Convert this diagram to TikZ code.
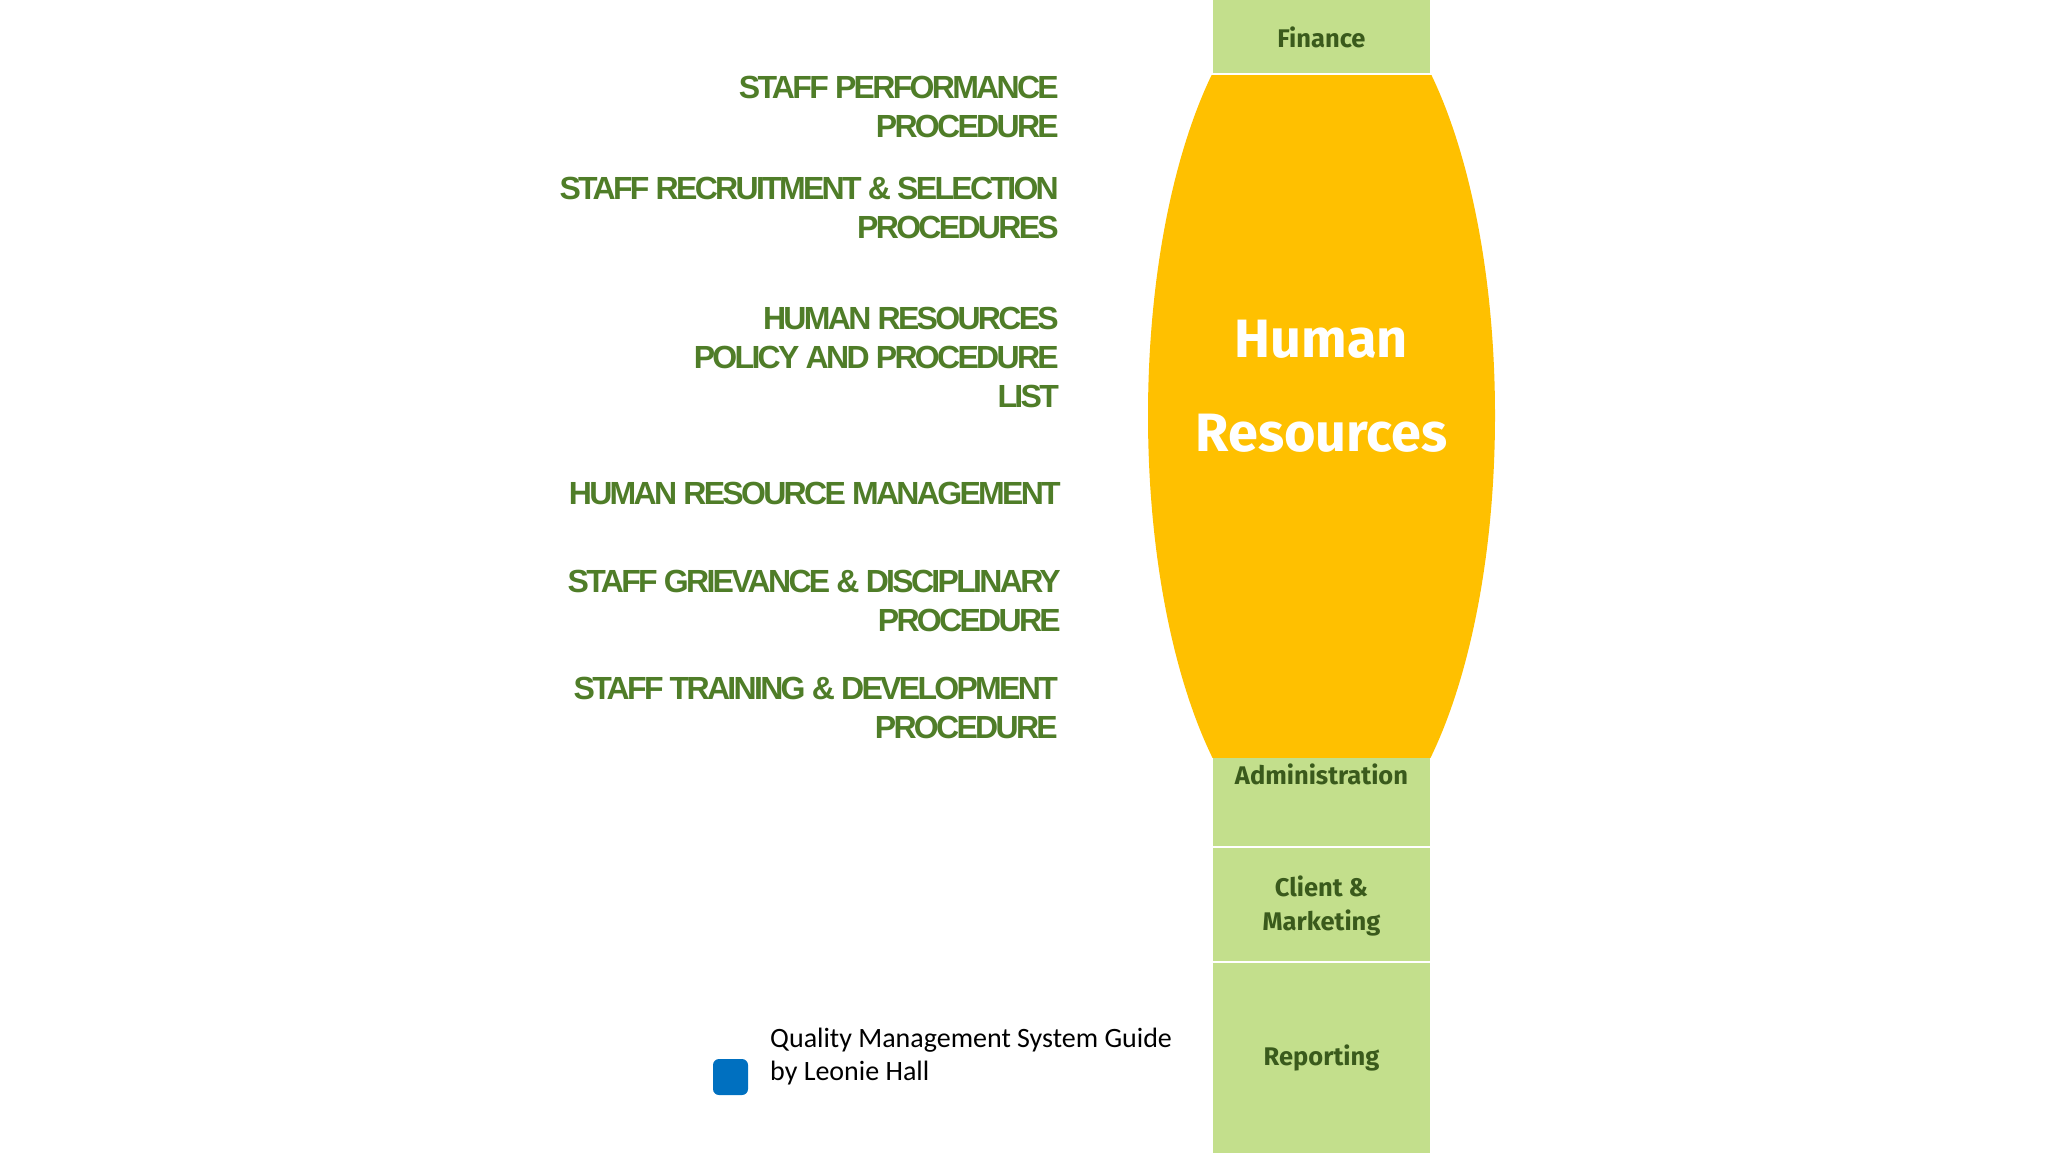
\documentclass[tikz,border=0pt]{standalone}
\usepackage{fontspec}
\newfontfamily\hdfont[LetterSpace=-8.4]{Liberation Sans}
\newfontfamily\lbfont{Fira Sans}
\newfontfamily\qfont{Carlito}
\definecolor{boxgreen}{HTML}{C3DF8C}
\definecolor{labelgreen}{HTML}{3A5A1C}
\definecolor{txtgreen}{HTML}{4F7D28}
\definecolor{hrgold}{HTML}{FFC000}
\definecolor{qblue}{HTML}{0070C0}
\tikzset{
  colbox/.style={fill=boxgreen, draw=white, line width=2pt},
  collabel/.style={inner sep=0pt, text=labelgreen, font=\lbfont\bfseries\fontsize{25.5}{34}\selectfont, align=center},
  proc/.style={inner sep=0pt, anchor=north east, align=right, text=txtgreen, font=\hdfont\bfseries\fontsize{32}{39}\selectfont},
}
\begin{document}
\begin{tikzpicture}[x=1pt,y=-1pt]
\useasboundingbox[fill=white] (0,0) rectangle (2048,1152);
% green column
\draw[colbox] (1212,-5) rectangle (1431,74);
\draw[colbox] (1212,757) rectangle (1431,847);
\draw[colbox] (1212,847) rectangle (1431,962);
\draw[colbox] (1212,962) rectangle (1431,1160);
% gold lens
\begin{scope}
  \clip (1000,75) rectangle (1700,757);
  \fill[hrgold] (1321.5,415.5) ellipse [x radius=173.5pt, y radius=440pt];
\end{scope}
\node[inner sep=0pt, text=white, align=center, font=\lbfont\bfseries\fontsize{54}{94}\selectfont] (hr) at (1321.5,386) {Human\\Resources};
% column labels
\node[collabel] (fin) at (1321.5,37) {Finance};
\node[collabel] (adm) at (1321.5,774) {Administration};
\node[collabel] (cli) at (1321.5,906) {Client \&\\Marketing};
\node[collabel] (rep) at (1321.5,1058) {Reporting};
% procedure list
\node[proc] (p1) at (1059,76) {STAFF PERFORMANCE\\PROCEDURE};
\node[proc] (p2) at (1059,176.5) {STAFF RECRUITMENT \& SELECTION\\PROCEDURES};
\node[proc] (p3) at (1059,307) {HUMAN RESOURCES\\POLICY AND PROCEDURE\\LIST};
\node[proc] (p4) at (1061,482) {HUMAN RESOURCE MANAGEMENT};
\node[proc] (p5) at (1061,569.5) {STAFF GRIEVANCE \& DISCIPLINARY\\PROCEDURE};
\node[proc] (p6) at (1058,676.5) {STAFF TRAINING \& DEVELOPMENT\\PROCEDURE};
% footer
\fill[qblue, rounded corners=6pt] (713,1059) rectangle (748,1095);
\node[inner sep=0pt, anchor=north west, align=left, font=\qfont\fontsize{28}{33}\selectfont] (q) at (770,1028) {Quality Management System Guide\\by Leonie Hall};
\end{tikzpicture}
\end{document}
